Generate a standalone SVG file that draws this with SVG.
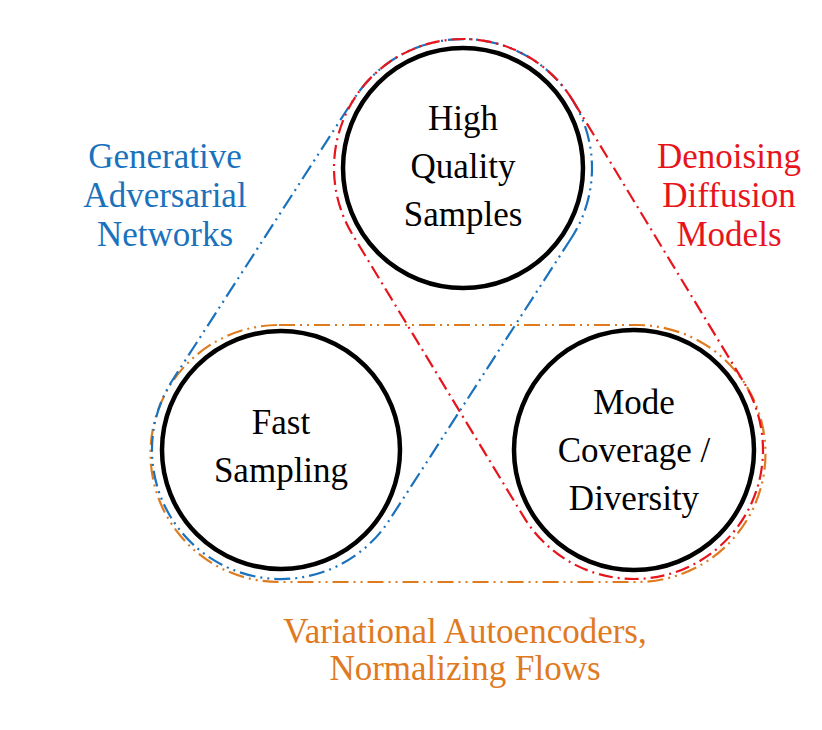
<svg xmlns="http://www.w3.org/2000/svg" width="822" height="730" viewBox="0 0 822 730">
<style>
text{font-family:"Liberation Serif","Times New Roman",serif;font-size:35px;text-anchor:middle}
.c{fill:none;stroke:#000;stroke-width:4.5}
.cap{fill:none;stroke-width:2.2}
</style>
<rect width="822" height="730" fill="#fff"/>
<g id="connectors">
<path class="cap" stroke="#e07a1f" stroke-dasharray="16 5 2 5 2 5" d="M279 325 H637 A128.5 128.5 0 0 1 637 582 H279 A128.5 128.5 0 0 1 279 325 Z"/>
<path class="cap" stroke="#1a72bd" stroke-dasharray="16 5 2 5 2 5" d="M571.4 238 L389.4 520 A129 129 0 0 1 172.6 380 L354.6 98 A129 129 0 0 1 571.4 238 Z"/>
<path class="cap" stroke="#e8141c" stroke-dasharray="14 5 2 5" d="M573.3 101.1 L744.3 383.1 A129 129 0 0 1 523.7 516.9 L352.7 234.9 A129 129 0 0 1 573.3 101.1 Z"/>
</g>
<g id="high"><circle class="c" cx="463" cy="168" r="120"/><text x="463" y="130">High</text><text x="463" y="178">Quality</text><text x="463" y="226">Samples</text></g>
<g id="fast"><circle class="c" cx="281" cy="450" r="119"/><text x="281" y="434">Fast</text><text x="281" y="482">Sampling</text></g>
<g id="mode"><circle class="c" cx="634" cy="450" r="120"/><text x="634" y="414">Mode</text><text x="634" y="462">Coverage /</text><text x="634" y="510">Diversity</text></g>
<g id="labels">
<text fill="#1a72bd" x="165" y="168" font-size="31">Generative</text><text fill="#1a72bd" x="165" y="207" font-size="31">Adversarial</text><text fill="#1a72bd" x="165" y="246" font-size="31">Networks</text>
<text fill="#e8141c" x="729" y="168" font-size="31">Denoising</text><text fill="#e8141c" x="729" y="207" font-size="31">Diffusion</text><text fill="#e8141c" x="729" y="246" font-size="31">Models</text>
<text fill="#e07a1f" x="465" y="643" font-size="32">Variational Autoencoders,</text><text fill="#e07a1f" x="465" y="680" font-size="32">Normalizing Flows</text>
</g>
</svg>
